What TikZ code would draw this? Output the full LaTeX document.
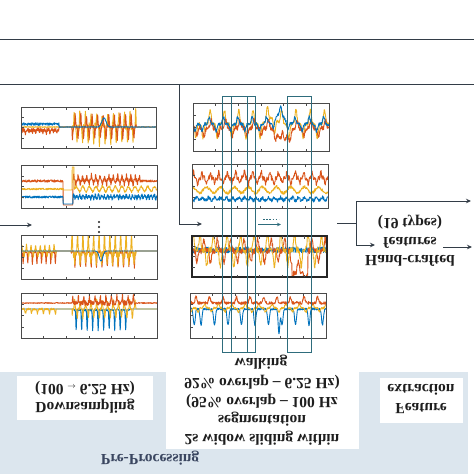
\documentclass[tikz,border=0pt]{standalone}
\usepackage{fontspec}
\setmainfont{Liberation Serif}
\usetikzlibrary{arrows.meta,calc}
\definecolor{mblue}{HTML}{0072BD}
\definecolor{morange}{HTML}{D95319}
\definecolor{myellow}{HTML}{EDB120}
\definecolor{winteal}{HTML}{2E6C7C}
\definecolor{bandcol}{HTML}{DCE6EE}
\definecolor{linecol}{HTML}{333D47}
\definecolor{pptext}{HTML}{3A4660}
\definecolor{framecol}{HTML}{4A4A4A}
\definecolor{txtcol}{HTML}{1E1E1E}
\begin{document}
\begin{tikzpicture}[x=1pt,y=-1pt,
  declare function={sk(\t)=sin(\t)*sin(\t)*sin(\t)*sin(\t)*sin(\t);
                    sp(\t)=sk(360*frac(\t));
                    sn(\t)=sin(360*frac(\t));
                    gau(\t)=exp(max(-20,-(\t)*(\t)));},
  lbl/.style={yscale=-1, font=\fontsize{15.5}{18.5}\selectfont\bfseries, align=center, text=txtcol, inner sep=0pt},
  rule/.style={draw=linecol, line width=1pt},
  arr/.style={draw=linecol, line width=0.9pt, -{Stealth[length=5pt,width=4.5pt]}},
  pbox/.style={inner sep=0pt, outer sep=0pt},
  pframe/.style={draw=framecol, line width=0.9pt},
  sig/.style={line width=0.9pt, line join=round},
  tick/.style={draw=framecol, line width=0.5pt},
  win/.style={draw=winteal, line width=1pt, inner sep=0pt},
  whitebox/.style={fill=white, inner sep=0pt}]
\useasboundingbox (0,0) rectangle (474,474);
\fill[white] (0,0) rectangle (474,474);
\pgfmathsetseed{7}

% top rules
\coordinate (h1a) at (0,39.5); \coordinate (h1b) at (474,39.5);
\coordinate (h2a) at (0,84);   \coordinate (h2b) at (474,84);
\draw[rule] (h1a) -- (h1b);
\draw[rule] (h2a) -- (h2b);

% band and boxes
\fill[bandcol] (0,372) rectangle (468,474);
\node[whitebox, minimum width=136pt, minimum height=44pt] (dsbox) at (85,398) {};
\node[whitebox, minimum width=193pt, minimum height=81pt] (segbox) at (262.5,408.5) {};
\node[whitebox, minimum width=83pt, minimum height=45pt] (febox) at (421.5,400.5) {};

\node[lbl] (dstext) at (85,397) {Downsampling\\(100 {\footnotesize$\rightarrow$} 6.25 Hz)};
\node[lbl] (segtext) at (262,410) {2s widow sliding within\\segmentation\\(95\% overlap \textendash{} 100 Hz\\92\% overlap \textendash{} 6.25 Hz)};
\node[lbl] (fetext) at (421,399) {Feature\\extraction};
\node[lbl, text=pptext] (pptitle) at (150,458) {Pre-Processing};
\node[lbl] (walk) at (261,362) {walking};
\node[lbl] (hc) at (410,241) {Hand-crafted\\features\\(19 types)};

% plot placeholders
\path node[pbox, minimum width=135pt, minimum height=41pt] (L1) at (88.5,127.5) {};
\path node[pbox, minimum width=136pt, minimum height=43pt] (L2) at (89,186.5) {};
\path node[pbox, minimum width=136pt, minimum height=44pt] (L3) at (89,257) {};
\path node[pbox, minimum width=136pt, minimum height=45pt] (L4) at (89,315.5) {};
\path node[pbox, minimum width=136pt, minimum height=48pt] (R1) at (261,127) {};
\path node[pbox, minimum width=136pt, minimum height=44pt] (R2) at (260,186) {};
\path node[pbox, minimum width=135pt, minimum height=41pt] (R3) at (259.5,256.5) {};
\path node[pbox, minimum width=136pt, minimum height=45pt] (R4) at (258,315.5) {};

% L1
\begin{scope}
\clip (L1.south west) rectangle (L1.north east);
\draw[sig,myellow] plot[domain=21:156,samples=500] (\x,{(\x>72 && \x<136) ? (127-15*sp(\x/5.6)+4*sp(\x/2.9)+1.5*rand) : (127+0.4*rand)});
\draw[sig,morange] plot[domain=21:156,samples=500] (\x,{(\x<59) ? (130+2*rand+3*max(0,sp(\x/3.5))) : ((\x>72 && \x<136) ? (127+12*sp((\x+1.8)/5.6)+2*rand) : 127)});
\draw[sig,mblue] plot[domain=21:156,samples=400] (\x,{(\x<59) ? (124+1.5*rand) : (127-9*gau((\x-104)/3)+0.3*rand)});
\end{scope}
% L2
\begin{scope}
\clip (L2.south west) rectangle (L2.north east);
\draw[sig,morange] plot[domain=21:157,samples=500] (\x,{(\x<63) ? (181+1.2*rand) : ((\x<73) ? 205 : ((\x<140) ? (180+5*sp(\x/4.4)+2*rand) : (181+rand)))});
\draw[sig,myellow] plot[domain=21:157,samples=500] (\x,{(\x<63) ? (189+0.8*rand) : ((\x<72) ? 190 : ((\x<74) ? 167 : (189+2.5*sn(\x/6.5)+1.2*rand)))});
\draw[sig,mblue] plot[domain=21:157,samples=500] (\x,{(\x<63) ? (197+rand) : ((\x<73) ? 204 : (197+2*rand+1.5*sn(\x/3.1)))});
\end{scope}
% L3
\begin{scope}
\clip (L3.south west) rectangle (L3.north east);
\draw[sig,morange] plot[domain=21:157,samples=500] (\x,{(\x<56) ? (252+12*max(0,sp((\x+1)/4.6))+rand) : ((\x>71 && \x<136) ? (252+15*max(0,sp((\x+2)/5.4))+1.5*rand) : 251)});
\draw[sig,myellow] plot[domain=21:157,samples=500] (\x,{(\x<56) ? (251+6*sp(\x/4.6)+rand) : ((\x>71 && \x<136) ? (251-16*sp((\x-0.5)/5.4)+5*sp(\x/2.7)+2*rand) : 251)});
\draw[sig,mblue] plot[domain=21:157,samples=300] (\x,{251+10*gau((\x-101)/2.5)});
\end{scope}
% L4
\begin{scope}
\clip (L4.south west) rectangle (L4.north east);
\draw[sig,mblue] plot[domain=21:157,samples=500] (\x,{(\x>74 && \x<130) ? (310+20*max(0,sp((\x+2.2)/5.5))+rand) : 309});
\draw[sig,myellow] plot[domain=21:157,samples=500] (\x,{(\x<56) ? (309+5*max(0,sp(\x/6))+rand) : ((\x>72 && \x<136) ? (309+9*sp((\x+1)/5.5)+1.5*rand) : 309)});
\draw[sig,morange] plot[domain=21:157,samples=500] (\x,{(\x>72 && \x<136) ? (303-7*max(0,sp(\x/5.5))+2.5*rand) : (303+0.5*rand)});
\end{scope}
% R1
\begin{scope}
\clip (R1.south west) rectangle (R1.north east);
\draw[sig,myellow] plot[domain=193:329,samples=400] (\x,{124+14*sp((\x-203)/14.3+0.25)+1.5*rand-6*gau((\x-272)/6)});
\draw[sig,morange] plot[domain=193:329,samples=400] (\x,{128+8*sp((\x-204)/14.3+0.25)+2.5*rand+12*gau((\x-283)/7)});
\draw[sig,mblue] plot[domain=193:329,samples=400] (\x,{124+7*sp((\x-202)/14.3+0.25)+1.5*rand-10*gau((\x-280)/6)});
\end{scope}
% R2
\begin{scope}
\clip (R2.south west) rectangle (R2.north east);
\draw[sig,myellow] plot[domain=192:328,samples=400] (\x,{190+3*sn(\x/14)+1.5*rand});
\draw[sig,morange] plot[domain=192:328,samples=400] (\x,{178+6*sp(\x/8.5)+2.5*rand});
\draw[sig,mblue] plot[domain=192:328,samples=400] (\x,{199+1.8*rand+1.5*sn(\x/6)});
\end{scope}
% R3
\begin{scope}
\clip (R3.south west) rectangle (R3.north east);
\draw[sig,mblue] plot[domain=192:327,samples=400] (\x,{250+3*rand});
\draw[sig,morange] plot[domain=192:327,samples=400] (\x,{251+12*sp((\x-197)/13.5+0.25)+3*rand+((\x>292 && \x<308) ? 22 : 0)});
\draw[sig,myellow] plot[domain=192:327,samples=400] (\x,{250-16*sp((\x-200)/13.5+0.25)+3*rand});
\end{scope}
% R4
\begin{scope}
\clip (R4.south west) rectangle (R4.north east);
\draw[sig,mblue] plot[domain=190:326,samples=500] (\x,{309+16*max(0,sp((\x-201)/13.5+0.25))+rand+25*gau((\x-279)/1.2)});
\draw[sig,myellow] plot[domain=190:326,samples=400] (\x,{308+4*sp((\x-198)/13.5+0.25)+rand});
\draw[sig,morange] plot[domain=190:326,samples=400] (\x,{303-6*max(0,sp((\x-196)/13.5+0.25))+1.5*rand});
\end{scope}

% frames and ticks
\foreach \p in {L1,L2,L3,L4,R1,R2,R4}{
  \draw[pframe] (\p.south west) rectangle (\p.north east);
}
\draw[draw=black!85, line width=1.5pt] (R3.south west) rectangle (R3.north east);
\foreach \p in {L1,L2,L3,L4,R1,R2,R3,R4}{
  \foreach \i in {1,...,5}{
    \draw[tick] ($(\p.north west)!\i/6!(\p.north east)$) -- ++(0,2.5);
    \draw[tick] ($(\p.south west)!\i/6!(\p.south east)$) -- ++(0,-2.5);
  }
  \foreach \i in {1,2,3}{
    \draw[tick] ($(\p.north west)!\i/4!(\p.south west)$) -- ++(2.5,0);
  }
}

% sliding windows
\node[win, minimum width=24.6pt, minimum height=255.5pt] (w1) at (235,224.3) {};
\node[win, minimum width=24.7pt, minimum height=255.5pt] (w2) at (243.35,224.3) {};
\node[win, minimum width=24.4pt, minimum height=255.5pt] (w3) at (299.5,224.3) {};

% dots between left plots
\foreach \yy in {222,227,232}{ \fill[txtcol] (99,\yy) circle (1.1pt); }

% small dotted arrow
\coordinate (da1) at (263,219.5); \coordinate (da2) at (279,219.5);
\coordinate (db1) at (258,224.5); \coordinate (db2) at (281,224.5);
\draw[draw=winteal, line width=1pt, dash pattern=on 1.6pt off 1.6pt] (da1) -- (da2);
\draw[draw=winteal, line width=0.8pt, -{Stealth[length=4pt,width=3.5pt]}] (db1) -- (db2);

% connectors
\coordinate (inL) at (0,225); \coordinate (inLe) at (32,225);
\draw[arr] (inL) -- (inLe);
\coordinate (vtop) at (179,84); \coordinate (vend) at (202,224);
\draw[arr] (vtop) |- (vend);
\coordinate (s0) at (337,223); \coordinate (s1) at (356,223);
\coordinate (s2b) at (471,201); \coordinate (s3b) at (375,245);
\coordinate (o1) at (443,247); \coordinate (o2) at (472,247);
\draw[rule, line width=0.9pt] (s0) -- (s1);
\draw[arr] (s1) |- (s2b);
\draw[arr] (s1) |- (s3b);
\draw[arr] (o1) -- (o2);
\end{tikzpicture}
\end{document}
